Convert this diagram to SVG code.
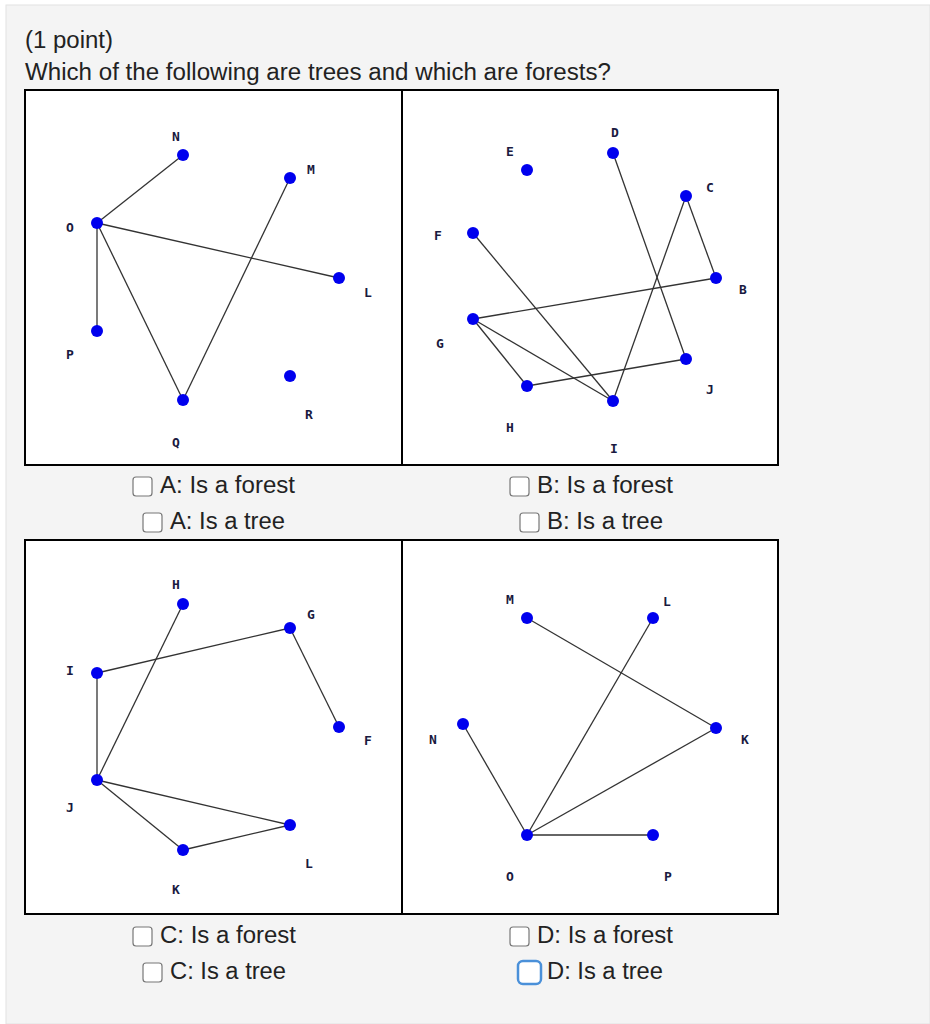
<svg xmlns="http://www.w3.org/2000/svg" width="930" height="1024" viewBox="0 0 930 1024">
<style>
.e{stroke:#333;stroke-width:1.3}
.n{fill:#0000ee}
.l{font-family:"DejaVu Sans Mono",monospace;font-weight:bold;font-size:13px;fill:#1a1a40;text-anchor:middle}
.t{font-family:"Liberation Sans",Arial,sans-serif;font-size:23px;fill:#222}
.box{fill:#fff;stroke:#000;stroke-width:2}
.cb{fill:#fff;stroke:#777;stroke-width:1.2}
</style>
<rect x="0" y="0" width="930" height="1024" fill="#fff"/>
<rect x="6" y="5" width="924" height="1019" fill="#f4f4f4" stroke="#e2e2e2"/>
<text class="t" x="25" y="48" textLength="88" lengthAdjust="spacingAndGlyphs">(1 point)</text>
<text class="t" x="25" y="80" textLength="586" lengthAdjust="spacingAndGlyphs">Which of the following are trees and which are forests?</text>
<rect class="box" x="25" y="90" width="377" height="375"/>
<rect class="box" x="402" y="90" width="376" height="375"/>
<rect class="box" x="25" y="540" width="377" height="374"/>
<rect class="box" x="402" y="540" width="376" height="374"/>
<g id="connectors">
<line class="e" x1="183" y1="155" x2="97" y2="223"/><line class="e" x1="97" y1="223" x2="339" y2="278"/><line class="e" x1="97" y1="223" x2="97" y2="331"/><line class="e" x1="97" y1="223" x2="183" y2="400"/><line class="e" x1="183" y1="400" x2="290" y2="178"/>
<line class="e" x1="473" y1="233" x2="613" y2="401"/><line class="e" x1="473" y1="319" x2="716" y2="278"/><line class="e" x1="473" y1="319" x2="613" y2="401"/><line class="e" x1="473" y1="319" x2="527" y2="386"/><line class="e" x1="527" y1="386" x2="686" y2="359"/><line class="e" x1="613" y1="153" x2="686" y2="359"/><line class="e" x1="686" y1="196" x2="716" y2="278"/><line class="e" x1="686" y1="196" x2="613" y2="401"/>
<line class="e" x1="97" y1="673" x2="290" y2="628"/><line class="e" x1="290" y1="628" x2="339" y2="727"/><line class="e" x1="97" y1="673" x2="97" y2="780"/><line class="e" x1="97" y1="780" x2="183" y2="604"/><line class="e" x1="97" y1="780" x2="290" y2="825"/><line class="e" x1="97" y1="780" x2="183" y2="850"/><line class="e" x1="183" y1="850" x2="290" y2="825"/>
<line class="e" x1="527" y1="618" x2="716" y2="728"/><line class="e" x1="653" y1="618" x2="527" y2="835"/><line class="e" x1="463" y1="724" x2="527" y2="835"/><line class="e" x1="716" y1="728" x2="527" y2="835"/><line class="e" x1="527" y1="835" x2="653" y2="835"/>
</g>
<g id="A-N"><circle class="n" cx="183" cy="155" r="6"/><text class="l" x="176" y="141">N</text></g>
<g id="A-M"><circle class="n" cx="290" cy="178" r="6"/><text class="l" x="311" y="174">M</text></g>
<g id="A-O"><circle class="n" cx="97" cy="223" r="6"/><text class="l" x="70" y="232">O</text></g>
<g id="A-L"><circle class="n" cx="339" cy="278" r="6"/><text class="l" x="368" y="297">L</text></g>
<g id="A-P"><circle class="n" cx="97" cy="331" r="6"/><text class="l" x="70" y="359">P</text></g>
<g id="A-R"><circle class="n" cx="290" cy="376" r="6"/><text class="l" x="309" y="419">R</text></g>
<g id="A-Q"><circle class="n" cx="183" cy="400" r="6"/><text class="l" x="176" y="447">Q</text></g>
<g id="B-E"><circle class="n" cx="527" cy="170" r="6"/><text class="l" x="510" y="156">E</text></g>
<g id="B-D"><circle class="n" cx="613" cy="153" r="6"/><text class="l" x="615" y="137">D</text></g>
<g id="B-C"><circle class="n" cx="686" cy="196" r="6"/><text class="l" x="710" y="192">C</text></g>
<g id="B-F"><circle class="n" cx="473" cy="233" r="6"/><text class="l" x="438" y="240">F</text></g>
<g id="B-B"><circle class="n" cx="716" cy="278" r="6"/><text class="l" x="743" y="294">B</text></g>
<g id="B-G"><circle class="n" cx="473" cy="319" r="6"/><text class="l" x="440" y="348">G</text></g>
<g id="B-J"><circle class="n" cx="686" cy="359" r="6"/><text class="l" x="710" y="394">J</text></g>
<g id="B-H"><circle class="n" cx="527" cy="386" r="6"/><text class="l" x="510" y="432">H</text></g>
<g id="B-I"><circle class="n" cx="613" cy="401" r="6"/><text class="l" x="614" y="453">I</text></g>
<g id="C-H"><circle class="n" cx="183" cy="604" r="6"/><text class="l" x="176" y="589">H</text></g>
<g id="C-G"><circle class="n" cx="290" cy="628" r="6"/><text class="l" x="311" y="619">G</text></g>
<g id="C-I"><circle class="n" cx="97" cy="673" r="6"/><text class="l" x="70" y="675">I</text></g>
<g id="C-F"><circle class="n" cx="339" cy="727" r="6"/><text class="l" x="368" y="745">F</text></g>
<g id="C-J"><circle class="n" cx="97" cy="780" r="6"/><text class="l" x="70" y="812">J</text></g>
<g id="C-L"><circle class="n" cx="290" cy="825" r="6"/><text class="l" x="309" y="868">L</text></g>
<g id="C-K"><circle class="n" cx="183" cy="850" r="6"/><text class="l" x="176" y="894">K</text></g>
<g id="D-M"><circle class="n" cx="527" cy="618" r="6"/><text class="l" x="510" y="604">M</text></g>
<g id="D-L"><circle class="n" cx="653" cy="618" r="6"/><text class="l" x="667" y="606">L</text></g>
<g id="D-N"><circle class="n" cx="463" cy="724" r="6"/><text class="l" x="433" y="744">N</text></g>
<g id="D-K"><circle class="n" cx="716" cy="728" r="6"/><text class="l" x="745" y="744">K</text></g>
<g id="D-O"><circle class="n" cx="527" cy="835" r="6"/><text class="l" x="510" y="881">O</text></g>
<g id="D-P"><circle class="n" cx="653" cy="835" r="6"/><text class="l" x="668" y="881">P</text></g>
<rect class="cb" x="133" y="477" width="19" height="19" rx="3"/><text class="t" x="160" y="493" textLength="135" lengthAdjust="spacingAndGlyphs">A: Is a forest</text>
<rect class="cb" x="143" y="513" width="19" height="19" rx="3"/><text class="t" x="170" y="529" textLength="115" lengthAdjust="spacingAndGlyphs">A: Is a tree</text>
<rect class="cb" x="510" y="477" width="19" height="19" rx="3"/><text class="t" x="537" y="493" textLength="136" lengthAdjust="spacingAndGlyphs">B: Is a forest</text>
<rect class="cb" x="520" y="513" width="19" height="19" rx="3"/><text class="t" x="547" y="529" textLength="116" lengthAdjust="spacingAndGlyphs">B: Is a tree</text>
<rect class="cb" x="133" y="927" width="19" height="19" rx="3"/><text class="t" x="160" y="943" textLength="136" lengthAdjust="spacingAndGlyphs">C: Is a forest</text>
<rect class="cb" x="143" y="963" width="19" height="19" rx="3"/><text class="t" x="170" y="979" textLength="116" lengthAdjust="spacingAndGlyphs">C: Is a tree</text>
<rect class="cb" x="510" y="927" width="19" height="19" rx="3"/><text class="t" x="537" y="943" textLength="136" lengthAdjust="spacingAndGlyphs">D: Is a forest</text>
<rect x="518" y="961" width="23" height="23" rx="5" fill="#fff" stroke="#4a90d9" stroke-width="2.5"/><text class="t" x="547" y="979" textLength="116" lengthAdjust="spacingAndGlyphs">D: Is a tree</text>
</svg>
